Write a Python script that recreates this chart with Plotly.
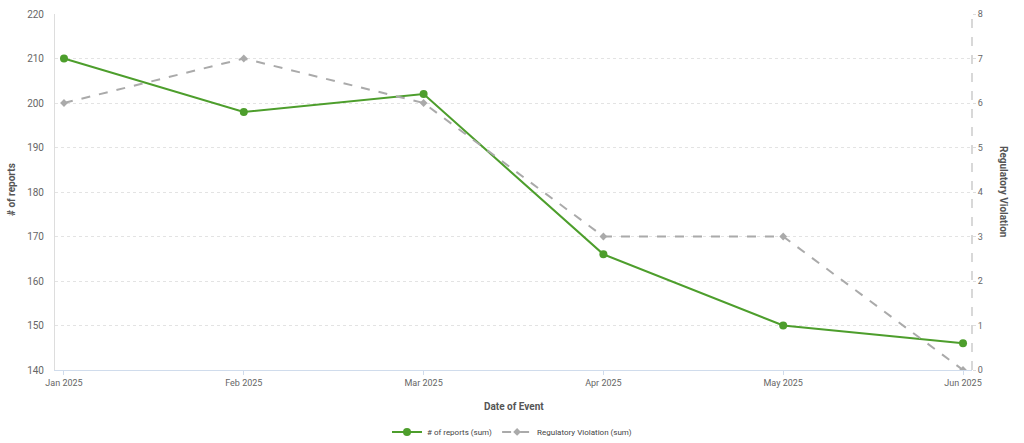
import plotly.graph_objects as go

months = ["Jan 2025", "Feb 2025", "Mar 2025", "Apr 2025", "May 2025", "Jun 2025"]
reports = [210, 198, 202, 166, 150, 146]
violations = [6, 7, 6, 3, 3, 0]

FONT = "Roboto, Arial"
fig = go.Figure()
fig.add_trace(go.Scatter(x=months, y=reports, name="# of reports (sum)", mode="lines+markers",
                         line=dict(color="#4d9e2c", width=2), marker=dict(size=8, color="#4d9e2c"),
                         yaxis="y"))
fig.add_trace(go.Scatter(x=months, y=violations, name="Regulatory Violation (sum)", mode="lines+markers",
                         line=dict(color="#aaaaaa", width=2, dash="dash"),
                         marker=dict(size=6, color="#aaaaaa", symbol="diamond"),
                         yaxis="y2"))

tickfont = dict(family=FONT, size=10, color="#666666")
pw = 1024 - 55 - 52
ph = 443 - 14 - 73
fig.update_layout(
    width=1024, height=443, autosize=False,
    margin=dict(l=55, r=52, t=14, b=73, autoexpand=False),
    paper_bgcolor="white", plot_bgcolor="white",
    font=dict(family=FONT, color="#555555"),
    showlegend=True,
    legend=dict(orientation="h", x=0.5, xanchor="center", xref="container",
                y=0.025, yanchor="middle", yref="container", itemwidth=30,
                font=dict(size=8, color="#444444")),
    xaxis=dict(type="category", range=[-0.05, 5.05], showgrid=False, showline=True,
               linecolor="#d0dcec", linewidth=1, ticks="outside", ticklen=4, tickcolor="#d0dcec",
               tickfont=dict(family=FONT, size=9, color="#666666"), zeroline=False),
    yaxis=dict(range=[140, 220], dtick=10, showgrid=True, gridcolor="#e3e3e3", griddash="dot",
               showline=True, linecolor="#dddddd", tickfont=tickfont, zeroline=False, ticks="",
               ticklabelstandoff=8),
    yaxis2=dict(range=[0, 8], dtick=1, overlaying="y", side="right", showgrid=False,
                showline=False,
                tickfont=dict(family=FONT, size=9, color="#666666"), zeroline=False,
                ticks="outside", ticklen=3, tickcolor="#dddddd"),
    annotations=[
        dict(text="<b>Date of Event</b>", x=0.5, xref="paper", y=(370 - 406) / ph, yref="paper",
             xanchor="center", yanchor="middle",
             showarrow=False, font=dict(size=10, color="#555555")),
        dict(text="<b># of reports</b>", x=(11 - 55) / pw, xref="paper", y=(370 - 190) / ph, yref="paper",
             xanchor="center", yanchor="middle",
             textangle=-90, showarrow=False, font=dict(size=10, color="#555555")),
        dict(text="<b>Regulatory Violation</b>", x=(1004 - 55) / pw, xref="paper", y=(370 - 192) / ph,
             yref="paper", xanchor="center", yanchor="middle",
             textangle=90, showarrow=False, font=dict(size=10, color="#555555")),
    ],
)
fig.add_shape(type="line", xref="paper", yref="paper", x0=1, x1=1, y0=0, y1=1,
              line=dict(color="#cccccc", width=1.5, dash="dash"))
fig.write_html("out.html")
